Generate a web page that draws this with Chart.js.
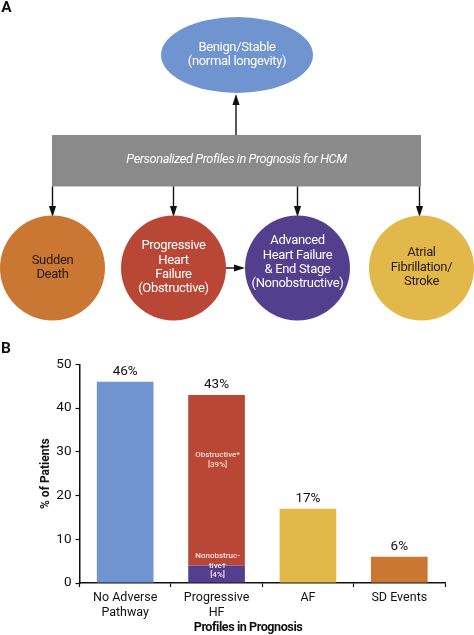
<!DOCTYPE html>
<html><head><meta charset="utf-8">
<style>html,body{margin:0;padding:0;background:#fff}canvas{display:block}</style>
<script src="https://cdn.jsdelivr.net/npm/chart.js@4"></script>
</head><body><canvas id="c" width="474" height="635" style="width:474px;height:635px"></canvas>
<script>
const categories = [["No Adverse","Pathway"],["Progressive","HF"],"AF","SD Events"];
const baseSeries = [0,4,0,0];
const mainSeries = [46,39,17,6];
const totalLabels = ["46%","43%","17%","6%"];
const mainColors = ["#6f94cf","#b94735","#e3b84b","#c97732"];
const baseColor = "#533f8e";
const yTicks = [0,10,20,30,40,50];
const FONT = 'Roboto';

function txt(ctx, lines, x, y, lh, font, color, spacing){
  ctx.font = font; ctx.fillStyle = color; ctx.textAlign = "center"; ctx.textBaseline = "middle";
  ctx.letterSpacing = (spacing||0)+"px";
  lines.forEach((l,i)=>ctx.fillText(l, x, y + i*lh));
  ctx.letterSpacing = "0px";
}
function arrow(ctx,x1,y1,x2,y2){
  const a=Math.atan2(y2-y1,x2-x1), L=11, W=3.6;
  ctx.strokeStyle="#111"; ctx.fillStyle="#111"; ctx.lineWidth=1.4;
  ctx.beginPath(); ctx.moveTo(x1,y1); ctx.lineTo(x2-L*Math.cos(a)*.8,y2-L*Math.sin(a)*.8); ctx.stroke();
  ctx.beginPath(); ctx.moveTo(x2,y2);
  ctx.lineTo(x2-L*Math.cos(a)-W*Math.sin(a),y2-L*Math.sin(a)+W*Math.cos(a));
  ctx.lineTo(x2-L*Math.cos(a)+W*Math.sin(a),y2-L*Math.sin(a)-W*Math.cos(a));
  ctx.closePath(); ctx.fill();
}
const diagram = {
  id:"diagram",
  beforeDraw(chart){
    const ctx=chart.ctx; ctx.save();
    ctx.fillStyle="#fff"; ctx.fillRect(0,0,474,635);
    txt(ctx,["A"],6.5,8,0,"bold 15.5px "+FONT,"#111");
    txt(ctx,["B"],6,349,0,"bold 15.5px "+FONT,"#111");
    ctx.fillStyle=mainColors[0];
    ctx.beginPath(); ctx.ellipse(237,55,76,38,0,0,Math.PI*2); ctx.fill();
    txt(ctx,["Benign/Stable","(normal longevity)"],237,47.5,14.3,"13px "+FONT,"#fff",-0.35);
    ctx.fillStyle="#8a8a8a"; ctx.fillRect(52,135,369,51.5);
    txt(ctx,["Personalized Profiles in Prognosis for HCM"],236.5,160,0,"italic 12.8px "+FONT,"#fff",-0.43);
    arrow(ctx,236,135,236,94);
    [52.5,173.5,297.5,419.5].forEach(x=>arrow(ctx,x,186.5,x,217));
    const circles=[
      [52.5,mainColors[3],["Sudden","Death"],260.5,"#2b1a10"],
      [173.5,mainColors[1],["Progressive","Heart","Failure","(Obstructive)"],246,"#fff"],
      [297.5,baseColor,["Advanced","Heart Failure","& End Stage","(Nonobstructive)"],241,"#fff"],
      [421.5,mainColors[2],["Atrial","Fibrillation/","Stroke"],253,"#2b1a10"]];
    circles.forEach(([x,col,lines,y,tc])=>{
      ctx.fillStyle=col; ctx.beginPath(); ctx.arc(x,268,52.5,0,Math.PI*2); ctx.fill();
      txt(ctx,lines,x,y,14.3,"13px "+FONT,tc,-0.35);
    });
    arrow(ctx,226,268,245,268);
    ctx.restore();
  },
  afterDraw(chart){
    const ctx=chart.ctx, xs=chart.scales.x, ys=chart.scales.y; ctx.save();
    totalLabels.forEach((t,i)=>{
      const top=ys.getPixelForValue(baseSeries[i]+mainSeries[i]);
      txt(ctx,[t],xs.getPixelForValue(i),top-10.5,0,"13.5px "+FONT,"#111");
    });
    const cx=xs.getPixelForValue(1)+1;
    txt(ctx,["Obstructive*","[39%]"],cx,455,9.7,"500 8px "+FONT,"#fbdcd0");
    txt(ctx,["Nonobstruc-","tive†","[4%]"],cx,556,9.6,"500 8px "+FONT,"#fbe6e0");
    txt(ctx,["Profiles in Prognosis"],248,627.5,0,"bold 12.6px "+FONT,"#111",-0.45);
    ctx.restore();
  }
};
new Chart(document.getElementById("c"),{
  type:"bar",
  data:{labels:categories,datasets:[
    {label:"Nonobstructive",data:baseSeries,backgroundColor:baseColor,borderWidth:0},
    {label:"Main",data:mainSeries,backgroundColor:mainColors,borderWidth:0}
  ]},
  options:{
    responsive:false,animation:false,
    layout:{padding:{top:364.3,right:29,left:0,bottom:0}},
    datasets:{bar:{barPercentage:0.62,categoryPercentage:1}},
    plugins:{legend:{display:false},tooltip:{enabled:false},title:{display:false}},
    scales:{
      x:{stacked:true,
        afterFit(s){s.height=52;},
        border:{color:"#111",width:1.5},
        grid:{display:true,drawOnChartArea:false,offset:true,tickLength:4,tickColor:"#111",tickWidth:1.2},
        ticks:{color:"#111",font:{family:FONT,size:12.5,lineHeight:1.14},padding:4,maxRotation:0,autoSkip:false}},
      y:{stacked:true,min:0,max:50,
        afterBuildTicks(s){s.ticks=yTicks.map(v=>({value:v}));},
        afterFit(s){s.width=79.5;},
        border:{color:"#111",width:1.5},
        title:{display:true,text:"% of Patients",color:"#111",font:{family:FONT,size:12,weight:"bold"},padding:{top:39,bottom:0}},
        grid:{display:true,drawOnChartArea:false,tickLength:4,tickColor:"#111",tickWidth:1.2},
        ticks:{color:"#111",font:{family:FONT,size:13.5},padding:4}}
    }
  },
  plugins:[diagram]
});
</script></body></html>
